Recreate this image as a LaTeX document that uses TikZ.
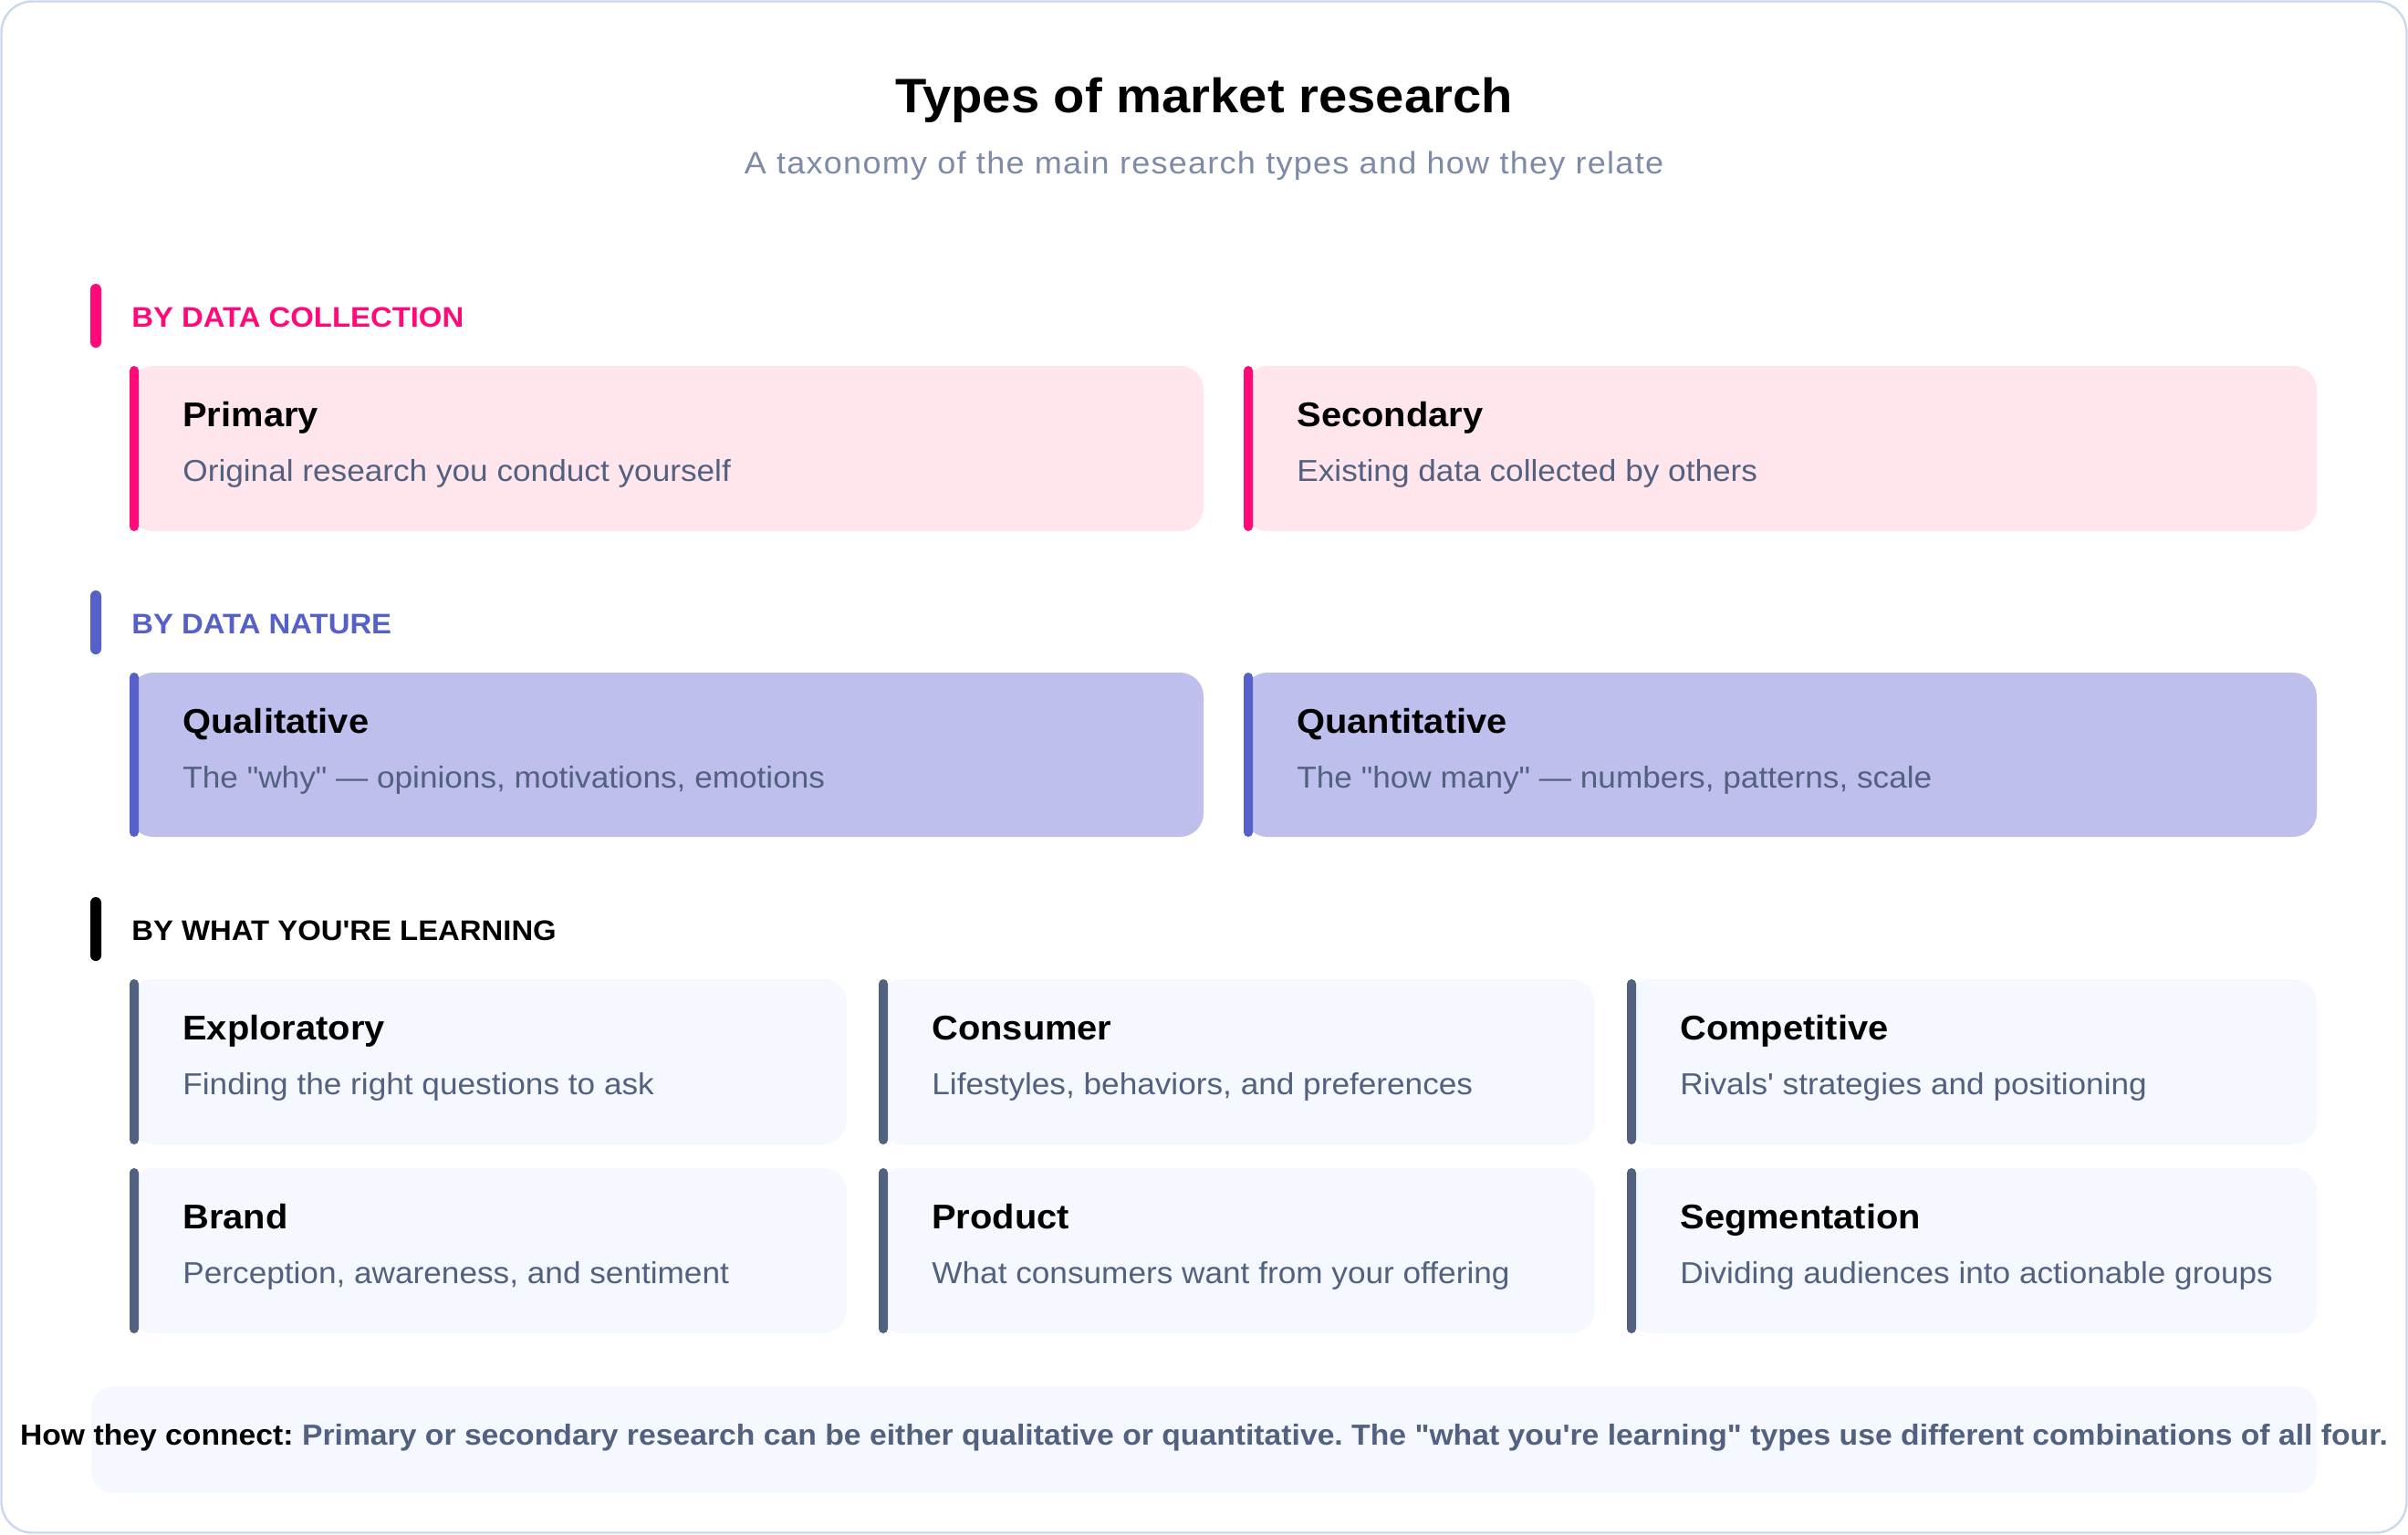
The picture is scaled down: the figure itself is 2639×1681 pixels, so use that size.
\documentclass[tikz,border=0pt]{standalone}
\usepackage{fontspec}
\newfontfamily\uif{Liberation Sans}[FakeStretch=1.06]
\newfontfamily\uisub{Liberation Sans}[FakeStretch=1.06, LetterSpace=3.7]
\definecolor{pinkacc}{HTML}{FF0A78}
\definecolor{pinkbg}{HTML}{FFE6ED}
\definecolor{indacc}{HTML}{5561C9}
\definecolor{indbg}{HTML}{BFBFEE}
\definecolor{slate}{HTML}{526180}
\definecolor{lightbg}{HTML}{F5F8FE}
\definecolor{subgray}{HTML}{7D8BA8}
\definecolor{framec}{HTML}{CBD8EA}
\tikzset{
  maintitle/.style={font={\uif\bfseries\fontsize{26.5pt}{30pt}\selectfont}, inner sep=0, anchor=base},
  subtitle/.style={font={\uisub\fontsize{17pt}{20pt}\selectfont}, text=subgray, inner sep=0, anchor=base},
  sechead/.style={font={\uif\bfseries\fontsize{15.5pt}{19pt}\selectfont}, inner sep=0, anchor=base west},
  cardtitle/.style={font={\uif\bfseries\fontsize{18.8pt}{22pt}\selectfont}, inner sep=0, anchor=base west},
  cardsub/.style={font={\uif\fontsize{16.6pt}{20pt}\selectfont}, text=slate, inner sep=0, anchor=base west},
  foottext/.style={font={\uif\bfseries\fontsize{15.9pt}{19pt}\selectfont\frenchspacing}, inner sep=0, anchor=base},
}
% #1 name, #2 x1, #3 y1, #4 x2, #5 y2, #6 bg, #7 bar, #8 title, #9 sub
\newcommand\mkcard[9]{%
  \fill[#6, rounded corners=13pt] (#2,#3) rectangle (#4,#5);
  \fill[#7, rounded corners=2.5pt] (#2,#3) rectangle ({#2+10},#5);
  \node[cardtitle] (#1t) at ({#2+58},{#3+66}) {#8};
  \node[cardsub] (#1s) at ({#2+58},{#3+126}) {#9};
}
\newcommand\mksec[5]{%
  \fill[#3, rounded corners=3pt] (99,#2) rectangle (111,{#2+70});
  \node[sechead, text=#4] (#1) at (144,{#2+47}) {#5};
}
\begin{document}
\frenchspacing
\begin{tikzpicture}[x=0.5pt,y=-0.5pt]
\useasboundingbox (0,0) rectangle (2639,1681);
\draw[framec, line width=1.2pt, fill=white, rounded corners=17pt] (1.5,1.5) rectangle (2637.5,1679.5);

\node[maintitle] (title) at (1319.5,123) {Types of market research};
\node[subtitle] (sub) at (1319.5,190) {A taxonomy of the main research types and how they relate};

\mksec{s1}{311}{pinkacc}{pinkacc}{BY DATA COLLECTION}
\mkcard{primary}{142}{401}{1319}{582}{pinkbg}{pinkacc}{Primary}{Original research you conduct yourself}
\mkcard{secondary}{1363}{401}{2539}{582}{pinkbg}{pinkacc}{Secondary}{Existing data collected by others}

\mksec{s2}{647}{indacc}{indacc}{BY DATA NATURE}
\mkcard{qual}{142}{737}{1319}{917}{indbg}{indacc}{Qualitative}{The "why" — opinions, motivations, emotions}
\mkcard{quant}{1363}{737}{2539}{917}{indbg}{indacc}{Quantitative}{The "how many" — numbers, patterns, scale}

\mksec{s3}{983}{black}{black}{BY WHAT YOU'RE LEARNING}
\mkcard{expl}{142}{1073}{928}{1254}{lightbg}{slate}{Exploratory}{Finding the right questions to ask}
\mkcard{cons}{963}{1073}{1748}{1254}{lightbg}{slate}{Consumer}{Lifestyles, behaviors, and preferences}
\mkcard{comp}{1783}{1073}{2539}{1254}{lightbg}{slate}{Competitive}{Rivals' strategies and positioning}
\mkcard{brand}{142}{1280}{928}{1461}{lightbg}{slate}{Brand}{Perception, awareness, and sentiment}
\mkcard{prod}{963}{1280}{1748}{1461}{lightbg}{slate}{Product}{What consumers want from your offering}
\mkcard{seg}{1783}{1280}{2539}{1461}{lightbg}{slate}{Segmentation}{Dividing audiences into actionable groups}

\fill[lightbg, rounded corners=12pt] (100,1519) rectangle (2539,1636);
\node[foottext] (foot) at (1319.5,1583) {How they connect: \textcolor{slate}{Primary or secondary research can be either qualitative or quantitative. The "what you're learning" types use different combinations of all four.}};
\end{tikzpicture}
\end{document}
